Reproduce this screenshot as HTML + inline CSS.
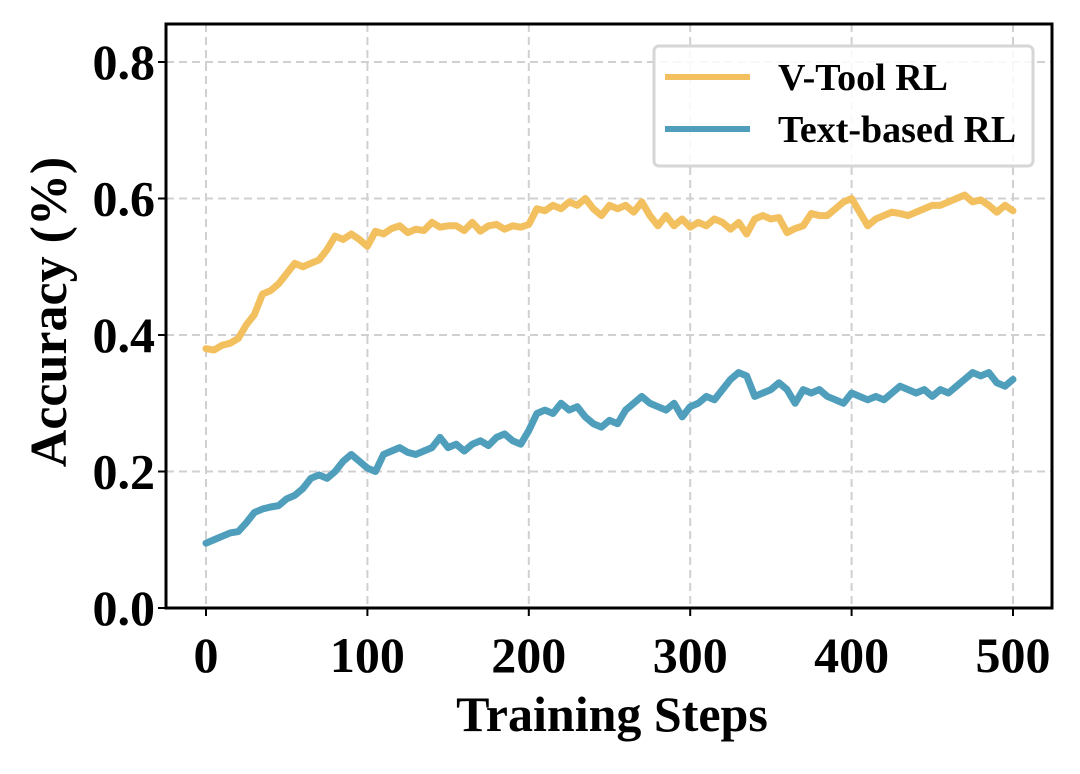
<!DOCTYPE html>
<html><head><meta charset="utf-8">
<style>
body{margin:0;background:#fff;}
svg text{font-family:"Liberation Serif",serif;font-weight:bold;fill:#000;}
</style></head>
<body>
<svg id="chart" width="1080" height="769">
<g id="grid"></g>
<g id="lines"></g>
<rect x="166" y="24" width="886" height="584" fill="none" stroke="#000" stroke-width="3"/>
<g id="ticks"></g>
<text x="612" y="731" font-size="50" text-anchor="middle">Training Steps</text>
<text transform="translate(66,312) rotate(-90)" font-size="52" text-anchor="middle">Accuracy (%)</text>
<g>
<rect x="654" y="46" width="379" height="120" rx="5" fill="#fff" fill-opacity="0.85" stroke="#d6d6d6" stroke-width="3"/>
<line x1="665" y1="77" x2="750" y2="77" stroke="#f3c060" stroke-width="6"/>
<text x="778" y="90" font-size="38">V-Tool RL</text>
<line x1="665" y1="129" x2="750" y2="129" stroke="#4e9ebc" stroke-width="6"/>
<text x="778" y="142" font-size="38">Text-based RL</text>
</g>
</svg>
<script>
const steps = [0,5,10,15,20,25,30,35,40,45,50,55,60,65,70,75,80,85,90,95,100,105,110,115,120,125,130,135,140,145,150,155,160,165,170,175,180,185,190,195,200,205,210,215,220,225,230,235,240,245,250,255,260,265,270,275,280,285,290,295,300,305,310,315,320,325,330,335,340,345,350,355,360,365,370,375,380,385,390,395,400,405,410,415,420,425,430,435,440,445,450,455,460,465,470,475,480,485,490,495,500];
const vtool = [0.38,0.378,0.385,0.388,0.395,0.415,0.43,0.46,0.465,0.475,0.49,0.505,0.50,0.505,0.51,0.525,0.545,0.54,0.548,0.54,0.53,0.552,0.548,0.556,0.56,0.55,0.555,0.553,0.565,0.558,0.56,0.56,0.553,0.565,0.552,0.56,0.562,0.555,0.56,0.558,0.562,0.585,0.582,0.59,0.585,0.595,0.59,0.6,0.585,0.575,0.59,0.585,0.59,0.58,0.595,0.575,0.56,0.575,0.56,0.57,0.558,0.565,0.56,0.57,0.565,0.555,0.565,0.548,0.57,0.575,0.57,0.572,0.55,0.556,0.56,0.578,0.575,0.575,0.585,0.595,0.6,0.58,0.56,0.57,0.575,0.58,0.578,0.575,0.58,0.585,0.59,0.59,0.595,0.6,0.605,0.595,0.598,0.59,0.58,0.59,0.582];
const textrl = [0.095,0.1,0.105,0.11,0.112,0.125,0.14,0.145,0.148,0.15,0.16,0.165,0.175,0.19,0.195,0.19,0.2,0.215,0.225,0.215,0.205,0.2,0.225,0.23,0.235,0.228,0.225,0.23,0.235,0.25,0.235,0.24,0.23,0.24,0.245,0.238,0.25,0.255,0.245,0.24,0.26,0.285,0.29,0.285,0.3,0.29,0.295,0.28,0.27,0.265,0.275,0.27,0.29,0.3,0.31,0.3,0.295,0.29,0.3,0.28,0.295,0.3,0.31,0.305,0.32,0.335,0.345,0.34,0.31,0.315,0.32,0.33,0.32,0.3,0.32,0.315,0.32,0.31,0.305,0.3,0.315,0.31,0.305,0.31,0.305,0.315,0.325,0.32,0.315,0.32,0.31,0.32,0.315,0.325,0.335,0.345,0.34,0.345,0.33,0.325,0.335];
const xTicks = [0,100,200,300,400,500];
const yTicks = [0.0,0.2,0.4,0.6,0.8];
const yTickLabels = ["0.0","0.2","0.4","0.6","0.8"];

const NS="http://www.w3.org/2000/svg";
const X0=206, X1=1013, Y0=608, Y1=62;
function xs(v){return X0+(v/500)*(X1-X0);}
function ys(v){return Y0-(v/0.8)*(Y0-Y1);}
function mk(tag,attrs,parent){const e=document.createElementNS(NS,tag);for(const k in attrs)e.setAttribute(k,attrs[k]);parent.appendChild(e);return e;}
const grid=document.getElementById('grid'), ticks=document.getElementById('ticks'), lines=document.getElementById('lines');
xTicks.forEach(t=>{
  const g=mk('line',{x1:xs(t),x2:xs(t),y1:24,y2:608,stroke:'#d0d0d0','stroke-width':2,'stroke-dasharray':'8,5'},grid);
  
  
  const tk=mk('line',{x1:xs(t),x2:xs(t),y1:608,y2:616,stroke:'#000','stroke-width':2},ticks);
  
  
  const tx=mk('text',{x:xs(t),y:672,'font-size':50,'text-anchor':'middle'},ticks);
  tx.textContent=t;
  
  
});
yTicks.forEach((t,i)=>{
  if(t>0){
  const g=mk('line',{x1:166,x2:1052,y1:ys(t),y2:ys(t),stroke:'#d0d0d0','stroke-width':2,'stroke-dasharray':'8,5'},grid);
  
  }
  const tk=mk('line',{x1:158,x2:166,y1:ys(t),y2:ys(t),stroke:'#000','stroke-width':2},ticks);
  
  
  const tx=mk('text',{x:155,y:ys(t)+17,'font-size':50,'text-anchor':'end'},ticks);
  tx.textContent=yTickLabels[i];
  
  
});
function series(vals,color,name){
  const pts=vals.map((v,i)=>xs(steps[i])+','+ys(v)).join(' ');
  const p=mk('polyline',{points:pts,fill:'none',stroke:color,'stroke-width':7,'stroke-linejoin':'round','stroke-linecap':'round'},lines);
  
  
}
series(vtool,'#f3c060','vtool-rl-line');
series(textrl,'#4e9ebc','text-based-rl-line');
</script>
</body></html>
